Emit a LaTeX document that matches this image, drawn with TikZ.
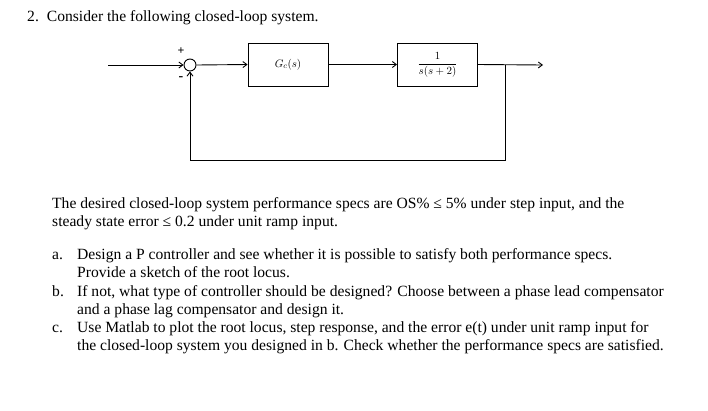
\documentclass[tikz,border=0pt]{standalone}
\usepackage{fontspec}
\setmainfont{Liberation Serif}
\usetikzlibrary{arrows.meta}
\begin{document}
\begin{tikzpicture}[x=1pt,y=-1pt,
  blk/.style={draw,line width=0.9pt,minimum width=80pt,minimum height=43pt,inner sep=0pt,font=\fontsize{11}{12}\selectfont},
  sig/.style={line width=0.9pt,-{Straight Barb[length=4pt,width=6pt]}},
  ln/.style={line width=0.9pt},
  txt/.style={anchor=base west,inner sep=0pt,font=\fontsize{15.6}{18}\selectfont}]
\useasboundingbox (0,0) rectangle (708,410);
% block diagram
\coordinate (in) at (108,65);
\node[draw,circle,line width=0.9pt,minimum size=12pt,inner sep=0pt] (sum) at (190,65) {};
\node[blk] (gc) at (288,64.5) {$G_c(s)$};
\node[blk] (gp) at (437.5,64.5) {$\displaystyle\frac{1}{s(s+2)}$};
\coordinate (br) at (505,65);
\coordinate (out) at (543,65);
\coordinate (bl) at (505,160);
\coordinate (bs) at (190,160);
\draw[sig] (in) -- (sum.west);
\draw[sig] (sum.east) -- (gc.west);
\draw[sig] (gc.east) -- (gp.west);
\draw[sig] (gp.east) -- (out);
\draw[ln] (br) -- (bl) -- (bs);
\draw[sig] (bs) -- (sum.south);
\node[font=\fontsize{12}{12}\selectfont\bfseries,inner sep=0pt] (plus) at (181,51) {+};
\node[font=\fontsize{14}{14}\selectfont\bfseries,inner sep=0pt] (minus) at (181,79) {-};
% text
\node[txt] (t0) at (27,21) {2.\hspace{8pt}Consider the following closed-loop system.};
\node[txt] (t1) at (52,208) {The desired closed-loop system performance specs are OS\% ≤ 5\% under step input, and the};
\node[txt] (t2) at (52,226) {steady state error ≤ 0.2 under unit ramp input.};
\node[txt] (la) at (52,259) {a.};
\node[txt] (a1) at (77,259) {Design a P controller and see whether it is possible to satisfy both performance specs.};
\node[txt] (a2) at (77,277) {Provide a sketch of the root locus.};
\node[txt] (lb) at (52,296) {b.};
\node[txt] (b1) at (77,296) {If not, what type of controller should be designed? Choose between a phase lead compensator};
\node[txt] (b2) at (77,314) {and a phase lag compensator and design it.};
\node[txt] (lc) at (52,332) {c.};
\node[txt] (c1) at (77,332) {Use Matlab to plot the root locus, step response, and the error e(t) under unit ramp input for};
\node[txt] (c2) at (77,350) {the closed-loop system you designed in b. Check whether the performance specs are satisfied.};
\end{tikzpicture}
\end{document}
